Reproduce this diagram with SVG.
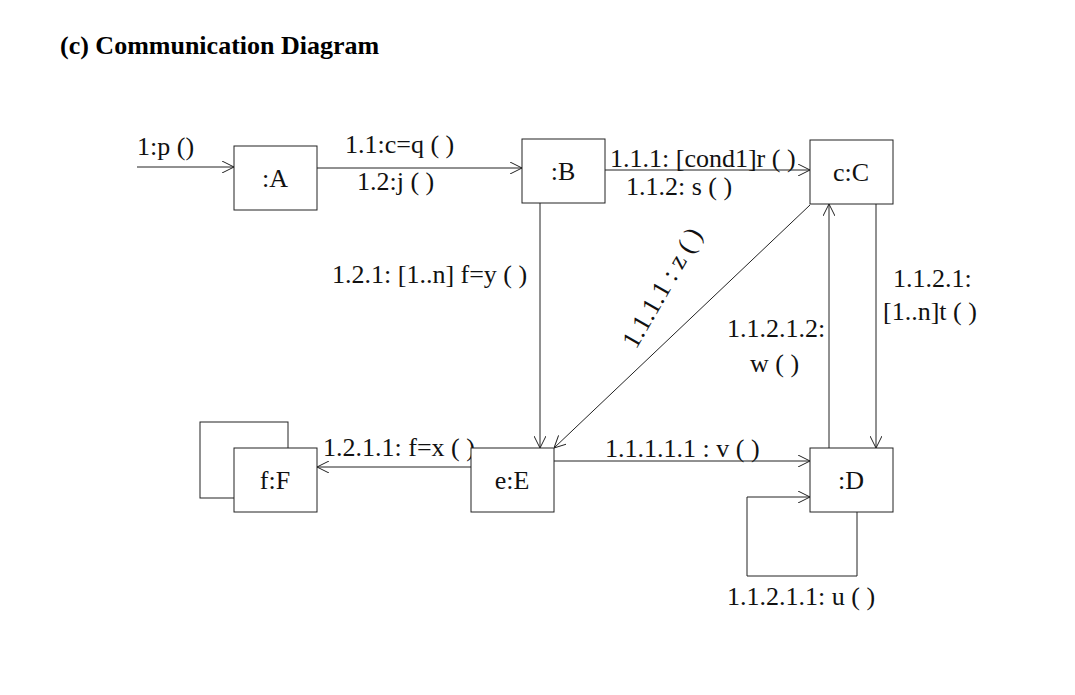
<svg xmlns="http://www.w3.org/2000/svg" width="1075" height="695" viewBox="0 0 1075 695">
<style>
.n{fill:#fff;stroke:#222;stroke-width:1}
.t{font-family:"Liberation Serif",serif;font-size:26px;fill:#111}
.c{fill:none;stroke:#222;stroke-width:1}
</style>
<defs><marker id="a" viewBox="0 0 12 12" refX="12" refY="6" markerWidth="12" markerHeight="12" markerUnits="userSpaceOnUse" orient="auto"><path d="M0,0 L12,6 L0,12" fill="none" stroke="#222"/></marker></defs>
<rect width="1075" height="695" fill="#fff"/>
<text x="60" y="54" style="font-family:'Liberation Serif',serif;font-size:26px;font-weight:bold">(c) Communication Diagram</text>
<g id="connectors">
<path class="c" d="M137,167 H234" marker-end="url(#a)"/>
<path class="c" d="M317,168 H522" marker-end="url(#a)"/>
<path class="c" d="M605,170 H810" marker-end="url(#a)"/>
<path class="c" d="M540,203 V448" marker-end="url(#a)"/>
<path class="c" d="M810,205 L554,448" marker-end="url(#a)"/>
<path class="c" d="M876,204 V448" marker-end="url(#a)"/>
<path class="c" d="M829,448 V204" marker-end="url(#a)"/>
<path class="c" d="M554,461 H810" marker-end="url(#a)"/>
<path class="c" d="M471,467 H317" marker-end="url(#a)"/>
<path class="c" d="M857,512 V576 H747 V497 H810" marker-end="url(#a)"/>
<text class="t" x="137" y="155">1:p ()</text>
<text class="t" x="345" y="153">1.1:c=q ( )</text>
<text class="t" x="357" y="190">1.2:j ( )</text>
<text class="t" x="610" y="167">1.1.1: [cond1]r ( )</text>
<text class="t" x="626" y="195">1.1.2: s ( )</text>
<text class="t" x="332" y="283">1.2.1: [1..n] f=y ( )</text>
<text class="t" transform="translate(636,350) rotate(-60)">1.1.1.1 : z ( )</text>
<text class="t" x="727" y="337">1.1.2.1.2:</text>
<text class="t" x="750" y="372">w ( )</text>
<text class="t" x="893" y="287">1.1.2.1:</text>
<text class="t" x="883" y="320">[1..n]t ( )</text>
<text class="t" x="323" y="456">1.2.1.1: f=x ( )</text>
<text class="t" x="605" y="457">1.1.1.1.1 : v ( )</text>
<text class="t" x="727" y="605">1.1.2.1.1: u ( )</text>
</g>
<g id="A"><rect class="n" x="234" y="146" width="83" height="64"/><text class="t" x="275" y="187" text-anchor="middle">:A</text></g>
<g id="B"><rect class="n" x="522" y="139" width="83" height="64"/><text class="t" x="563" y="180" text-anchor="middle">:B</text></g>
<g id="C"><rect class="n" x="810" y="140" width="83" height="64"/><text class="t" x="851" y="181" text-anchor="middle">c:C</text></g>
<g id="E"><rect class="n" x="471" y="448" width="83" height="64"/><text class="t" x="512" y="489" text-anchor="middle">e:E</text></g>
<g id="D"><rect class="n" x="810" y="448" width="83" height="64"/><text class="t" x="851" y="489" text-anchor="middle">:D</text></g>
<g id="F"><rect class="n" x="200" y="422" width="88" height="76"/><rect class="n" x="234" y="448" width="83" height="64"/><text class="t" x="275" y="489" text-anchor="middle">f:F</text></g>
</svg>
